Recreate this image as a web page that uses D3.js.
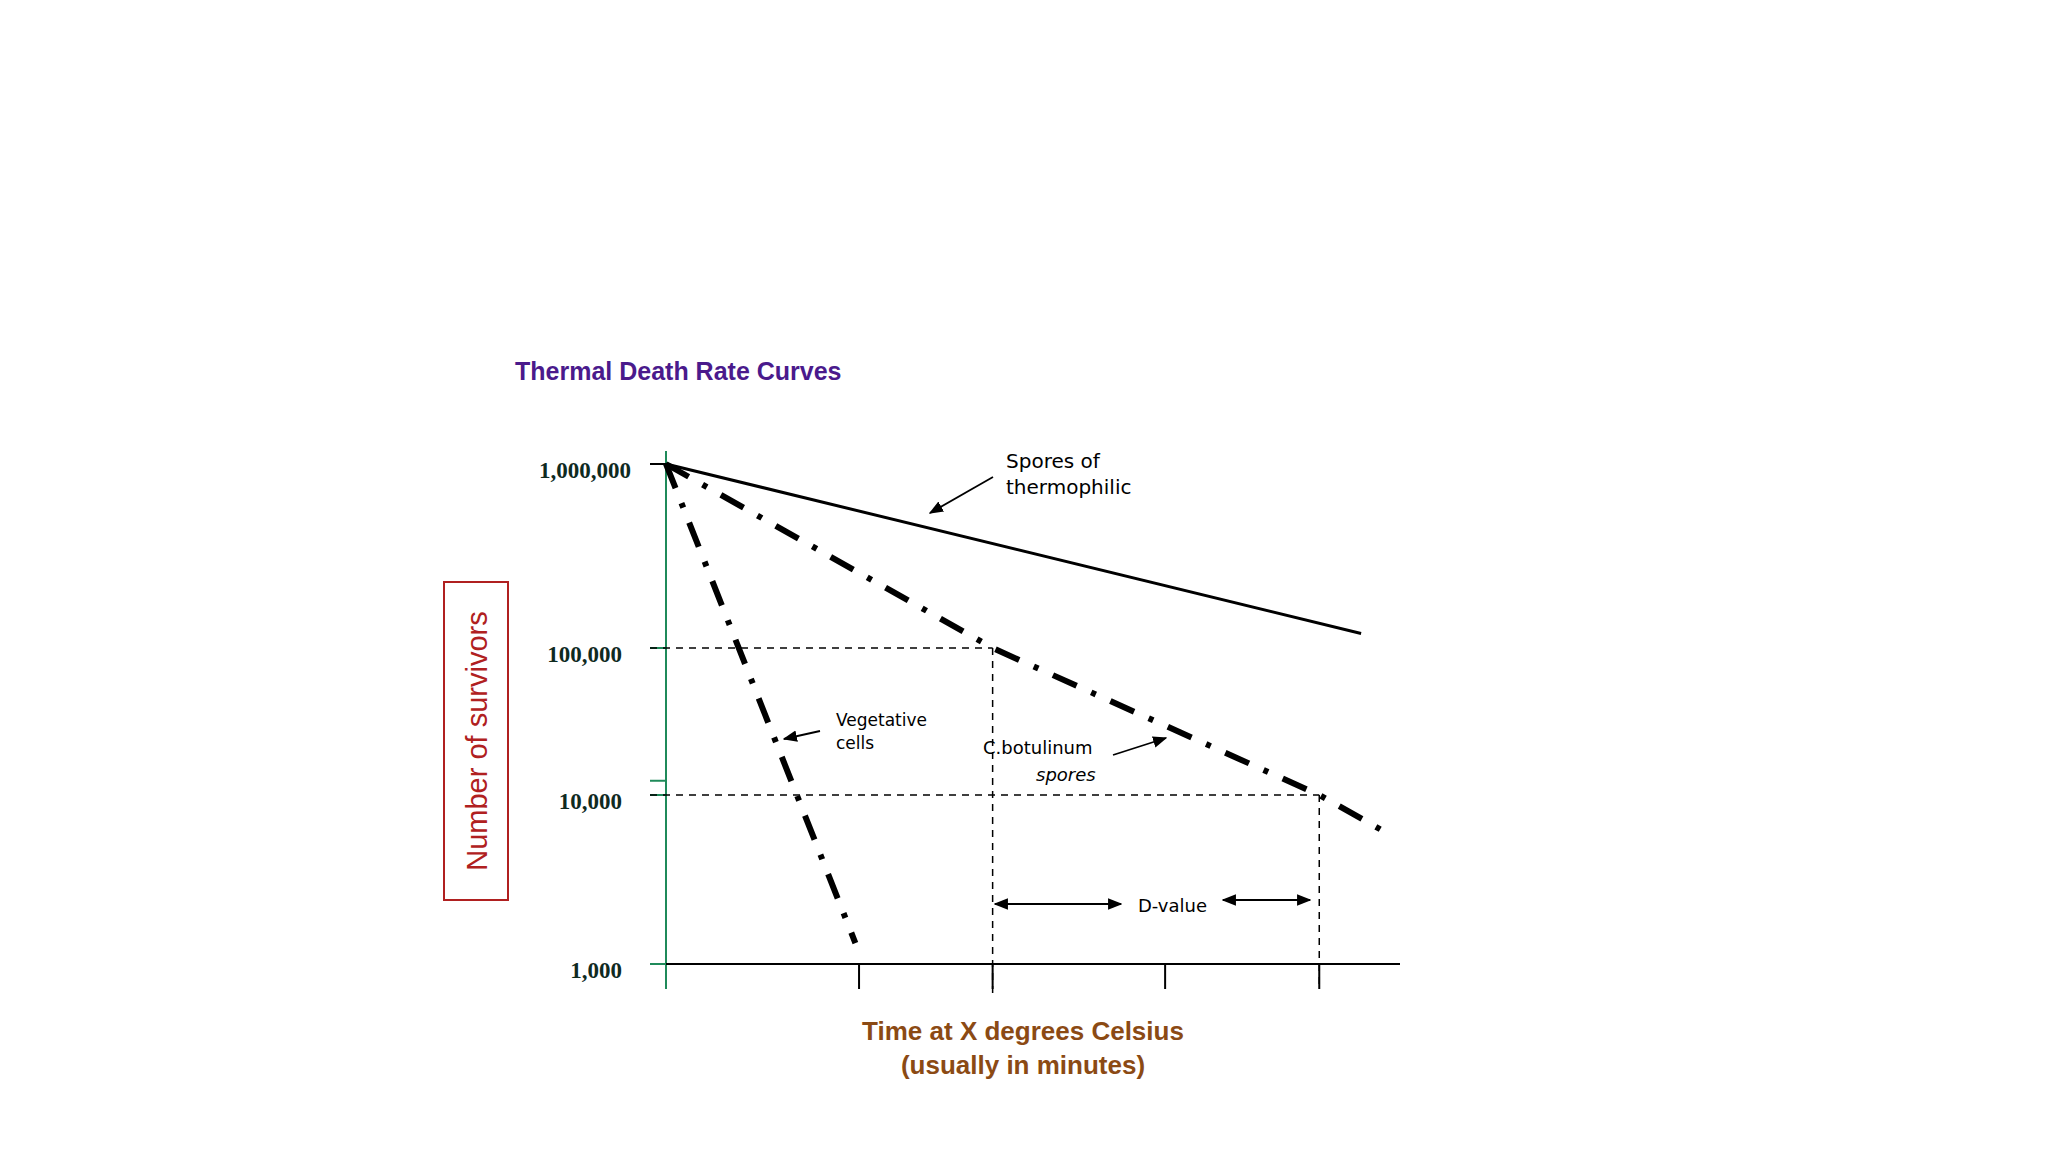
<!DOCTYPE html>
<html><head><meta charset="utf-8">
<script src="https://cdn.jsdelivr.net/npm/d3@7"></script>
<style>body{margin:0;background:#fff}</style>
</head><body>
<svg id="chart" width="2048" height="1152"></svg>
<script>
// survivors (log scale, hand-drawn spacing)
const yLevels = [1000000, 100000, 10000, 1000];
const yLabels = ["1,000,000", "100,000", "10,000", "1,000"];
const xTicks = [2.63, 4.45, 6.8, 8.9];

const thermoTime = [0, 9.47];
const thermoCount = [1000000, 120000];
const botTime = [0, 4.45, 8.9, 9.78];
const botCount = [1000000, 100000, 10000, 6100];
const vegTime = [0, 2.58];
const vegCount = [1000000, 1330];

const svg = d3.select("#chart");
const x = d3.scaleLinear().domain([0, 10]).range([666, 1400]);
const y = d3.scaleLog().domain(yLevels).range([464, 648, 795, 964]);
const ink = "#000";

// title
svg.append("text").attr("x", 515).attr("y", 380)
  .attr("font-family", "Liberation Sans, Arial").attr("font-weight", "bold")
  .attr("font-size", 25).attr("fill", "#4a1a8c").text("Thermal Death Rate Curves");

// y axis
svg.append("line").attr("x1", x(0)).attr("x2", x(0)).attr("y1", 451).attr("y2", 989)
  .attr("stroke", "#1f8a5a").attr("stroke-width", 2);
svg.selectAll(".ytick").data(yLevels.concat([12500])).enter().append("line")
  .attr("x1", 650).attr("x2", x(0)).attr("y1", d => y(d)).attr("y2", d => y(d))
  .attr("stroke", (d, i) => i === 0 ? ink : "#1f8a5a").attr("stroke-width", 2);
svg.selectAll(".ylab").data(yLevels).enter().append("text")
  .attr("x", (d, i) => i === 0 ? 631 : 622).attr("y", d => y(d) + 14)
  .attr("text-anchor", "end").attr("font-family", "Liberation Serif, Times New Roman")
  .attr("font-weight", "bold").attr("font-size", 23).attr("fill", "#0f2a1f")
  .text((d, i) => yLabels[i]);

// x axis
svg.append("line").attr("x1", x(0)).attr("x2", 1400).attr("y1", y(1000)).attr("y2", y(1000))
  .attr("stroke", ink).attr("stroke-width", 2);
svg.selectAll(".xtick").data(xTicks).enter().append("line")
  .attr("x1", d => x(d)).attr("x2", d => x(d)).attr("y1", y(1000)).attr("y2", 989)
  .attr("stroke", ink).attr("stroke-width", 2);

// guides
const dash = "7,6";
[[100000, 4.45], [10000, 8.9]].forEach(([v, t]) => {
  svg.append("line").attr("x1", 650).attr("x2", x(t)).attr("y1", y(v)).attr("y2", y(v))
    .attr("stroke", ink).attr("stroke-width", 1.5).attr("stroke-dasharray", dash);
  svg.append("line").attr("x1", x(t)).attr("x2", x(t)).attr("y1", y(v)).attr("y2", t < 5 ? 999 : 989)
    .attr("stroke", ink).attr("stroke-width", 1.5).attr("stroke-dasharray", dash);
});

// curves
const line = d3.line().x(d => x(d[0])).y(d => y(d[1]));
const curve = (ts, vs, w, da) => svg.append("path")
  .attr("d", line(ts.map((t, i) => [t, vs[i]])))
  .attr("fill", "none").attr("stroke", ink).attr("stroke-width", w)
  .attr("stroke-dasharray", da);
curve(thermoTime, thermoCount, 3, null);
curve(botTime, botCount, 6, "26,16,5,16");
curve(vegTime, vegCount, 6, "26,16,5,16");

// arrows
const defs = svg.append("defs");
defs.append("marker").attr("id", "ah").attr("viewBox", "0 0 10 10").attr("refX", 9).attr("refY", 5)
  .attr("markerWidth", 8).attr("markerHeight", 8).attr("orient", "auto-start-reverse")
  .append("path").attr("d", "M0,1L10,5L0,9Z").attr("fill", ink);
const arrow = (x1, y1, x2, y2, both) => svg.append("line")
  .attr("x1", x1).attr("y1", y1).attr("x2", x2).attr("y2", y2)
  .attr("stroke", ink).attr("stroke-width", 1.8)
  .attr("marker-end", "url(#ah)").attr("marker-start", both ? "url(#ah)" : null);
arrow(993, 477, 930, 513);
arrow(820, 731, 784, 739);
arrow(1113, 755, 1166, 738);
arrow(995, 904, 1121, 904, true);
arrow(1223, 900, 1310, 900, true);

// annotations
const note = (tx, ty, s, size, style) => svg.append("text").attr("x", tx).attr("y", ty)
  .attr("font-family", "DejaVu Sans, Verdana").attr("font-size", size)
  .attr("font-style", style || "normal").attr("fill", ink).text(s);
note(1006, 468, "Spores of", 20);
note(1006, 494, "thermophilic", 20);
note(836, 726, "Vegetative", 17);
note(836, 749, "cells", 17);
note(983, 754, "C.botulinum", 18);
note(1036, 781, "spores", 18, "italic");
note(1138, 912, "D-value", 18);

// y title box
svg.append("rect").attr("x", 444).attr("y", 582).attr("width", 64).attr("height", 318)
  .attr("fill", "none").attr("stroke", "#b02020").attr("stroke-width", 2);
svg.append("text").attr("transform", "translate(487,741) rotate(-90)")
  .attr("text-anchor", "middle").attr("font-family", "Liberation Sans, Arial")
  .attr("font-size", 29).attr("fill", "#b02020").text("Number of survivors");

// x title
["Time at X degrees Celsius", "(usually in minutes)"].forEach((s, i) =>
  svg.append("text").attr("x", 1023).attr("y", 1040 + i * 34).attr("text-anchor", "middle")
    .attr("font-family", "Liberation Sans, Arial").attr("font-weight", "bold")
    .attr("font-size", 26).attr("fill", "#8b4a14").text(s));
</script>
</body></html>
